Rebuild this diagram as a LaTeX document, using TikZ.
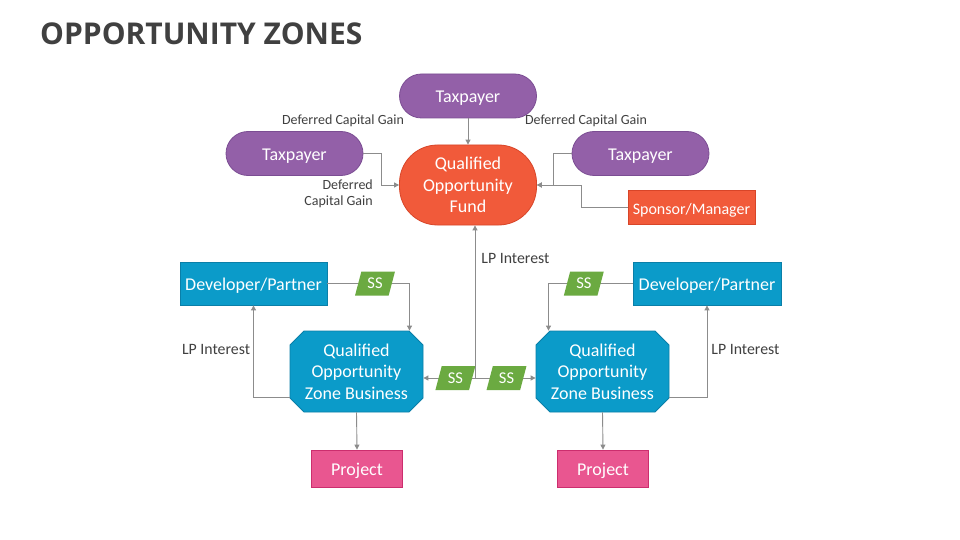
\documentclass[tikz,border=0pt]{standalone}
\usepackage{fontspec}
\setmainfont{Carlito}
\newfontfamily\headfont{Open Sans}
\usetikzlibrary{shapes.geometric,shapes.misc,arrows.meta}

\definecolor{txGray}{HTML}{404040}
\definecolor{lnGray}{HTML}{8C8C8C}
\definecolor{purpF}{HTML}{9360A8}
\definecolor{purpB}{HTML}{7B4D93}
\definecolor{oranF}{HTML}{F15A3A}
\definecolor{oranB}{HTML}{D84528}
\definecolor{blueF}{HTML}{0B9BC9}
\definecolor{blueB}{HTML}{0A7FA8}
\definecolor{ssGreen}{HTML}{6BAA41}
\definecolor{pinkF}{HTML}{E95690}
\definecolor{pinkB}{HTML}{CC2E6E}

\begin{document}
\begin{tikzpicture}[x=1pt,y=-1pt]

\tikzset{
    box/.style={
        draw,
        line width=0.8pt,
        inner sep=0pt,
        text=white,
        align=center,
        font=\fontsize{18}{21.5}\selectfont
    },
    oneline/.style={
        text height=16pt,
        text depth=2pt
    },
    pill/.style={
        box,
        oneline,
        draw=purpB,
        fill=purpF,
        rounded corners=22pt,
        minimum width=137pt,
        minimum height=44pt
    },
    fund/.style={
        box,
        draw=oranB,
        fill=oranF,
        rounded corners=38pt,
        minimum width=137pt,
        minimum height=80pt
    },
    devbox/.style={
        box,
        oneline,
        draw=blueB,
        fill=blueF,
        minimum width=#1,
        minimum height=43pt
    },
    qozb/.style={
        box,
        chamfered rectangle,
        chamfered rectangle xsep=7pt,
        chamfered rectangle ysep=7pt,
        draw=blueB,
        fill=blueF,
        minimum width=133pt,
        minimum height=81pt
    },
    proj/.style={
        box,
        oneline,
        draw=pinkB,
        fill=pinkF,
        minimum width=91pt,
        minimum height=37pt
    },
    ss/.style={
        trapezium,
        trapezium left angle=72,
        trapezium right angle=108,
        trapezium stretches=true,
        fill=ssGreen,
        inner sep=0pt,
        minimum width=40pt,
        minimum height=24pt,
        text=white,
        font=\fontsize{16.5}{18}\selectfont
    },
    lbl/.style={
        text=txGray,
        inner sep=2pt,
        font=\fontsize{14}{16}\selectfont
    },
    lplbl/.style={
        lbl,
        font=\fontsize{15.8}{18}\selectfont
    },
    arr/.style={
        draw=lnGray,
        line width=0.9pt,
        -{Triangle[length=5pt,width=5pt]}
    }
}

\fill[white] (0,0) rectangle (960,540);

\node(title) [anchor=base west, inner sep=0pt, text=txGray, font=\headfont\bfseries\fontsize{30}{36}\selectfont] at (40, 45) {OPPORTUNITY ZONES};

\node(tpT) [pill] at (468, 96) {Taxpayer};
\node(tpL) [pill] at (294.5, 153.5) {Taxpayer};
\node(tpR) [pill] at (640.5, 153.5) {Taxpayer};
\node(qof) [fund] at (468, 185) {Qualified\\Opportunity\\Fund};
\node(spm) [box, oneline, draw=oranB, fill=oranF, minimum width=127pt, minimum height=34pt, font=\fontsize{16}{19}\selectfont] at (691.5, 207) {Sponsor/Manager};

\node(devL) [devbox=147pt] at (253.5, 283.5) {Developer/Partner};
\node(devR) [devbox=148pt] at (707, 283.5) {Developer/Partner};
\node(qozL) [qozb] at (356.5, 371.5) {Qualified\\Opportunity\\Zone Business};
\node(qozR) [qozb] at (602.5, 371.5) {Qualified\\Opportunity\\Zone Business};
\node(prjL) [proj] at (357, 468.5) {Project};
\node(prjR) [proj] at (603, 468.5) {Project};

% capital gains into the fund
\draw[arr] (tpT.south) -- (qof.north);
\draw[arr] (tpL.east) -- ++(18,0) |- (qof.west);
\draw[arr] (tpR.west) -- ++(-18,0) |- (qof.east);
\draw[arr] (spm.west) -- ++(-46,0) |- (qof.east);
\node(dcgT) [lbl] at (343, 121) {Deferred Capital Gain};
\node(dcgR) [lbl] at (586, 121) {Deferred Capital Gain};
\node(dcgL) [lbl, anchor=east, align=right, font=\fontsize{14}{16.5}\selectfont] at (375, 194) {Deferred\\Capital Gain};

% developer side
\draw[arr] (devL.east) -| node[ss, pos=0.29] (ssL) {SS} ([xshift=53pt]qozL.north);
\draw[arr] (devR.west) -| node[ss, pos=0.29] (ssR) {SS} ([xshift=-54pt]qozR.north);
\draw[arr] ([yshift=-26pt]qozL.west) -| node[lplbl, anchor=east, pos=0.76, xshift=-1pt] {LP Interest} (devL.south);
\draw[arr] ([yshift=-26pt]qozR.east) -| node[lplbl, anchor=west, pos=0.76, xshift=2pt] {LP Interest} (devR.south);
\draw[arr] (qozL.south) -- (prjL.north);
\draw[arr] (qozR.south) -- (prjR.north);

% fund to the two businesses
\coordinate (j) at (475, 378);
\draw[arr] (j) -- node[lplbl, anchor=west, pos=0.78, xshift=4pt] {LP Interest} (qof.south -| j);
\draw[arr] (j) -- node[ss, pos=0.38] (ssM1) {SS} (qozL.east |- j);
\draw[arr] (j) -- node[ss, pos=0.52] (ssM2) {SS} (qozR.west |- j);

\end{tikzpicture}
\end{document}
